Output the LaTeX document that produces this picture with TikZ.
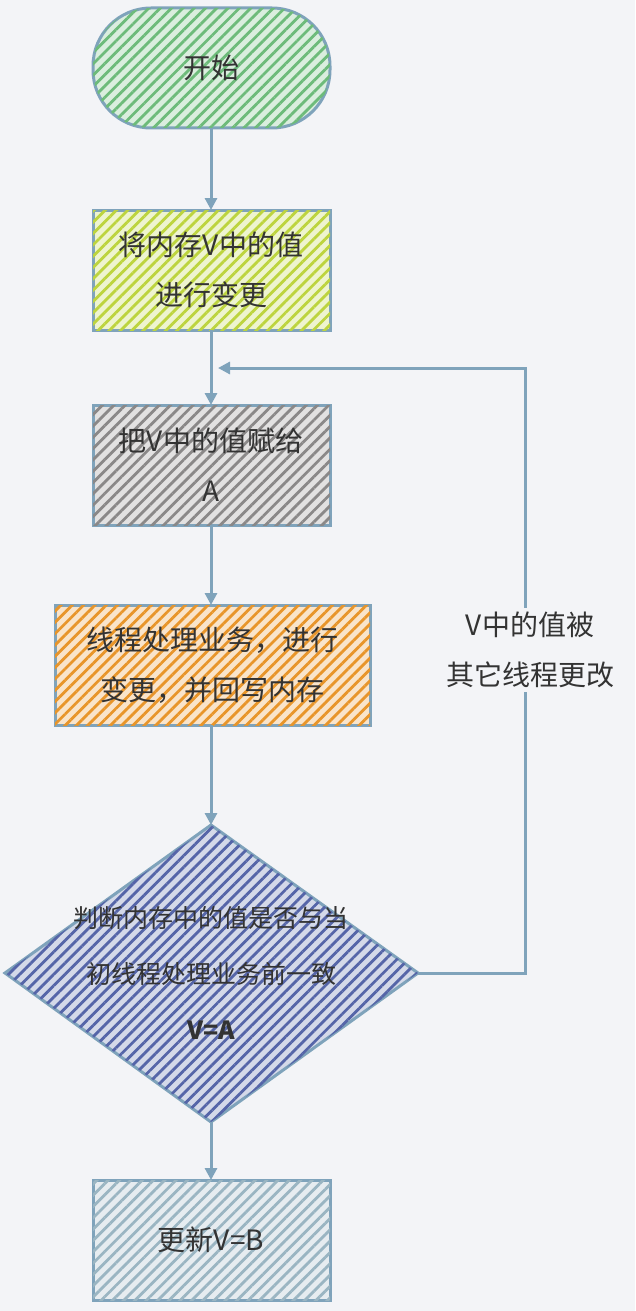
\documentclass[tikz,border=0pt]{standalone}
\usepackage{fontspec}
\setmainfont{Noto Sans CJK SC}
\usetikzlibrary{patterns.meta,arrows.meta,shapes.geometric}
\definecolor{bg}{HTML}{F3F4F7}
\definecolor{edge}{HTML}{7FA3BB}
\definecolor{txt}{HTML}{333333}
\definecolor{cg}{HTML}{6DBB7A}
\definecolor{cy}{HTML}{BDD43E}
\definecolor{cgr}{HTML}{8A8888}
\definecolor{co}{HTML}{E8952A}
\definecolor{cb}{HTML}{5565A8}
\definecolor{cl}{HTML}{9AB5C2}
\tikzset{
  hatch/.style={draw=edge,line width=3pt,fill=#1!25!white,
    postaction={pattern={Lines[angle=45,distance=8pt,line width=2.8pt]},pattern color=#1}},
  lbl/.style={text=txt,font=\fontsize{28}{50}\selectfont,align=center},
  conn/.style={draw=edge,line width=3pt,-{Triangle[length=12pt,width=12pt]}}
}
\begin{document}
\begin{tikzpicture}[x=1pt,y=-1pt]
\fill[bg] (0,0) rectangle (635,1311);
\useasboundingbox (0,0) rectangle (635,1311);
\draw[hatch=cg, rounded corners=58pt] (93,8) rectangle (330,128);
\node[lbl] (s) at (211,68) {开始};
\draw[hatch=cy] (93,210) rectangle (330,330);
\node[lbl] (b1) at (211,270) {将内存V中的值\\进行变更};
\draw[hatch=cgr] (93,405) rectangle (330,525);
\node[lbl] (b2) at (211,465) {把V中的值赋给\\A};
\draw[hatch=co] (55,605) rectangle (370,725);
\node[lbl] (b3) at (212,665) {线程处理业务，进行\\变更，并回写内存};
\draw[hatch=cb] (211,825) -- (418,973) -- (211,1122) -- (5,973) -- cycle;
\node[lbl,font=\fontsize{25}{56}\selectfont] (d) at (211,973) {判断内存中的值是否与当\\初线程处理业务前一致\\\textbf{V=A}};
\draw[hatch=cl] (93,1180) rectangle (330,1300);
\node[lbl] (b4) at (211,1240) {更新V=B};
\coordinate (t0) at (211,128); \coordinate (t1) at (211,210);
\coordinate (t2) at (211,330); \coordinate (t3) at (211,405);
\coordinate (t4) at (211,525); \coordinate (t5) at (211,605);
\coordinate (t6) at (211,725); \coordinate (t7) at (211,825);
\coordinate (t8) at (211,1122); \coordinate (t9) at (211,1180);
\coordinate (dr) at (418,973); \coordinate (lp) at (218,368);
\draw[conn] (t0) -- (t1);
\draw[conn] (t2) -- (t3);
\draw[conn] (t4) -- (t5);
\draw[conn] (t6) -- (t7);
\draw[conn] (t8) -- (t9);
\draw[conn] (dr) -- (525,973) -- (525,368) -- (lp);
\node[lbl,fill=bg,inner sep=4pt] (l) at (530,650) {V中的值被\\其它线程更改};
\end{tikzpicture}
\end{document}
